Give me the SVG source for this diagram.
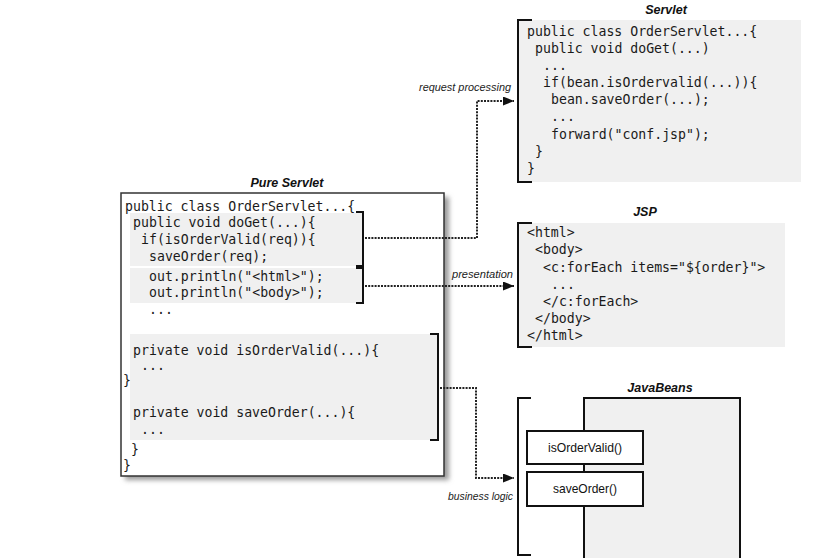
<svg xmlns="http://www.w3.org/2000/svg" width="819" height="558" viewBox="0 0 819 558">
<style>
.code{font-family:"DejaVu Sans Mono","Liberation Mono",monospace;font-size:13.2px;fill:#1a1a1a}
.title{font-family:"Liberation Sans",Arial,sans-serif;font-size:12.5px;font-weight:bold;font-style:italic;fill:#111;text-anchor:middle}
.lbl{font-family:"Liberation Sans",Arial,sans-serif;font-size:11px;font-style:italic;fill:#222;text-anchor:end}
.meth{font-family:"Liberation Sans",Arial,sans-serif;font-size:13px;fill:#111;text-anchor:middle}
.shade{fill:#f0f0f0}
.brk{fill:none;stroke:#111;stroke-width:2}
.conn{fill:none;stroke:#222;stroke-width:2;stroke-dasharray:2 1.2}
</style>
<defs>
<filter id="sh" x="-10%" y="-10%" width="130%" height="130%">
<feGaussianBlur stdDeviation="2.5"/>
</filter>
<marker id="arr" markerUnits="userSpaceOnUse" markerWidth="12" markerHeight="10" refX="11" refY="4.5" orient="auto">
<path d="M0,0 L11,4.5 L0,9 z" fill="#111"/>
</marker>
</defs>
<rect width="819" height="558" fill="#fff"/>

<g id="pure-servlet">
<rect x="125" y="197" width="324" height="283" fill="#9a9a9a" filter="url(#sh)"/>
<rect x="121" y="193" width="323" height="283" fill="#fff" stroke="#333" stroke-width="1.5"/>
<text class="title" x="287" y="187">Pure Servlet</text>
<rect class="shade" x="130" y="213" width="233" height="53"/>
<rect class="shade" x="130" y="268" width="233" height="35"/>
<rect class="shade" x="130" y="334" width="308" height="106"/>
<path class="brk" d="M356,212 H363 V266 H356"/>
<path class="brk" d="M356,268 H363 V303 H356"/>
<path class="brk" d="M430,334 H438 V440 H430"/>
<text class="code" x="125" y="211">public class OrderServlet...{</text>
<text class="code" x="133" y="227">public void doGet(...){</text>
<text class="code" x="141" y="244">if(isOrderValid(req)){</text>
<text class="code" x="149" y="261">saveOrder(req);</text>
<text class="code" x="149" y="281">out.println("&lt;html&gt;");</text>
<text class="code" x="149" y="297">out.println("&lt;body&gt;");</text>
<text class="code" x="149" y="314">...</text>
<text class="code" x="133" y="355">private void isOrderValid(...){</text>
<text class="code" x="141" y="370">...</text>
<text class="code" x="123" y="385">}</text>
<text class="code" x="133" y="417">private void saveOrder(...){</text>
<text class="code" x="141" y="434">...</text>
<text class="code" x="131" y="454">}</text>
<text class="code" x="123" y="470">}</text>
</g>

<g id="servlet">
<text class="title" x="666" y="14">Servlet</text>
<rect class="shade" x="518" y="20" width="283" height="162"/>
<path class="brk" d="M532,20 H518 V182 H532"/>
<text class="code" x="527" y="36">public class OrderServlet...{</text>
<text class="code" x="535" y="53">public void doGet(...)</text>
<text class="code" x="543" y="70">...</text>
<text class="code" x="543" y="87">if(bean.isOrdervalid(...)){</text>
<text class="code" x="551" y="104">bean.saveOrder(...);</text>
<text class="code" x="551" y="121">...</text>
<text class="code" x="551" y="139">forward("conf.jsp");</text>
<text class="code" x="535" y="156">}</text>
<text class="code" x="527" y="173">}</text>
</g>

<g id="jsp">
<text class="title" x="645" y="216">JSP</text>
<rect class="shade" x="518" y="223" width="267" height="124"/>
<path class="brk" d="M532,223 H518 V347 H532"/>
<text class="code" x="527" y="237">&lt;html&gt;</text>
<text class="code" x="535" y="254">&lt;body&gt;</text>
<text class="code" x="543" y="272">&lt;c:forEach items="${order}"&gt;</text>
<text class="code" x="551" y="289">...</text>
<text class="code" x="543" y="306">&lt;/c:forEach&gt;</text>
<text class="code" x="535" y="323">&lt;/body&gt;</text>
<text class="code" x="527" y="340">&lt;/html&gt;</text>
</g>

<g id="javabeans">
<text class="title" x="660" y="392">JavaBeans</text>
<rect x="584" y="398" width="156" height="170" fill="#f0f0f0" stroke="#111" stroke-width="2"/>
<path class="brk" d="M531,398 H518 V555 H531"/>
<g id="isOrderValid">
<rect x="527" y="431" width="116" height="33" fill="#fff" stroke="#111" stroke-width="2"/>
<text class="meth" x="585" y="452" textLength="74" lengthAdjust="spacingAndGlyphs">isOrderValid()</text>
</g>
<g id="saveOrder">
<rect x="527" y="472" width="116" height="34" fill="#fff" stroke="#111" stroke-width="2"/>
<text class="meth" x="585" y="493" textLength="64" lengthAdjust="spacingAndGlyphs">saveOrder()</text>
</g>
</g>

<g id="connectors">
<path class="conn" d="M365,238 H477 V101 H514" marker-end="url(#arr)"/>
<path class="conn" d="M365,286 H514" marker-end="url(#arr)"/>
<path class="conn" d="M440,388 H476 V478 H514" marker-end="url(#arr)"/>
<text class="lbl" x="511" y="91" textLength="92" lengthAdjust="spacingAndGlyphs">request processing</text>
<text class="lbl" x="513" y="278" textLength="61" lengthAdjust="spacingAndGlyphs">presentation</text>
<text class="lbl" x="513" y="500" textLength="65" lengthAdjust="spacingAndGlyphs">business logic</text>
</g>
</svg>
